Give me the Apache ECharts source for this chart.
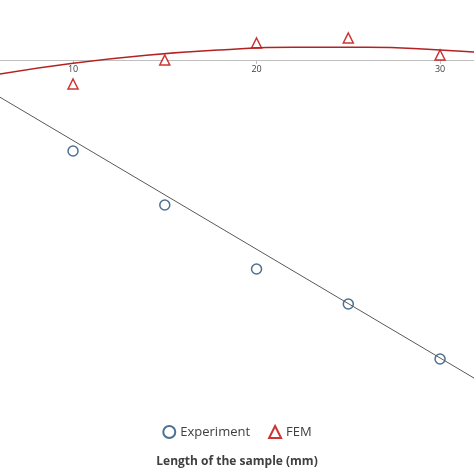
<!DOCTYPE html><html><head><meta charset="utf-8"><script src="https://cdn.jsdelivr.net/npm/echarts@6/dist/echarts.min.js"></script>
<style>html,body{margin:0;padding:0;background:#fff}#c{width:474px;height:474px}</style></head><body><div id="c"></div><script>
const expX=[10,15,20,25,30];
const expY=[-9.1,-14.5,-20.9,-24.4,-29.9];
const femX=[10,15,20,25,30];
const femY=[-2.4,0,1.7,2.2,0.5];
const fitLine=[[6,-3.7],[32,-31.97]];
const femCurve=[[6,-1.4],[10,-0.33],[14,0.47],[18,1.0],[22,1.27],[26,1.27],[30,1.0],[32,0.77]];
const tickLabels=[10,20,30];
const chart=echarts.init(document.getElementById('c'));
chart.setOption({
 animation:false,
 grid:[{left:0,right:0,top:0,bottom:0,outerBoundsMode:'none',containLabel:false},
       {left:0,right:0,top:0,height:60,outerBoundsMode:'none',containLabel:false}],
 xAxis:[{type:'value',min:6.02,max:31.85,gridIndex:0,show:false,splitLine:{show:false}},
  {type:'value',min:6.02,max:31.85,gridIndex:1,position:'bottom',
  axisLine:{lineStyle:{color:'#bfbfbf'}},
  axisTick:{show:true,customValues:tickLabels,length:4,lineStyle:{color:'#bfbfbf'}},
  axisLabel:{customValues:tickLabels,fontSize:9,color:'#404040',margin:5,fontFamily:'Open Sans'},
  splitLine:{show:false}}],
 yAxis:[{type:'value',min:-41.4,max:6,gridIndex:0,show:false,splitLine:{show:false}},
        {type:'value',min:0,max:6,gridIndex:1,show:false,splitLine:{show:false}}],
 legend:{bottom:30,left:'center',itemGap:18,textStyle:{fontSize:13,color:'#404040',fontFamily:'Open Sans'},itemWidth:12,itemHeight:12,
  data:[{name:'Experiment',icon:'circle'},{name:'FEM',icon:'triangle'}]},
 graphic:[{type:'text',left:'center',top:456,style:{text:'Length of the sample (mm)',font:'bold 12px "Open Sans"',fill:'#404040'}}],
 series:[
  {name:'fit',type:'line',data:fitLine,symbol:'none',lineStyle:{color:'#595959',width:1},silent:true},
  {name:'femfit',type:'line',data:femCurve,smooth:true,symbol:'none',lineStyle:{color:'#b22222',width:1.5},silent:true},
  {name:'Experiment',type:'scatter',data:expX.map((x,i)=>[x,expY[i]]),symbol:'circle',symbolSize:10,
   itemStyle:{color:'#fff',borderColor:'#1f4e79',borderWidth:1.5}},
  {name:'FEM',type:'scatter',data:femX.map((x,i)=>[x,femY[i]]),symbol:'triangle',symbolSize:10,
   itemStyle:{color:'#fff',borderColor:'#c00000',borderWidth:1.5}}
 ]});
</script></body></html>
